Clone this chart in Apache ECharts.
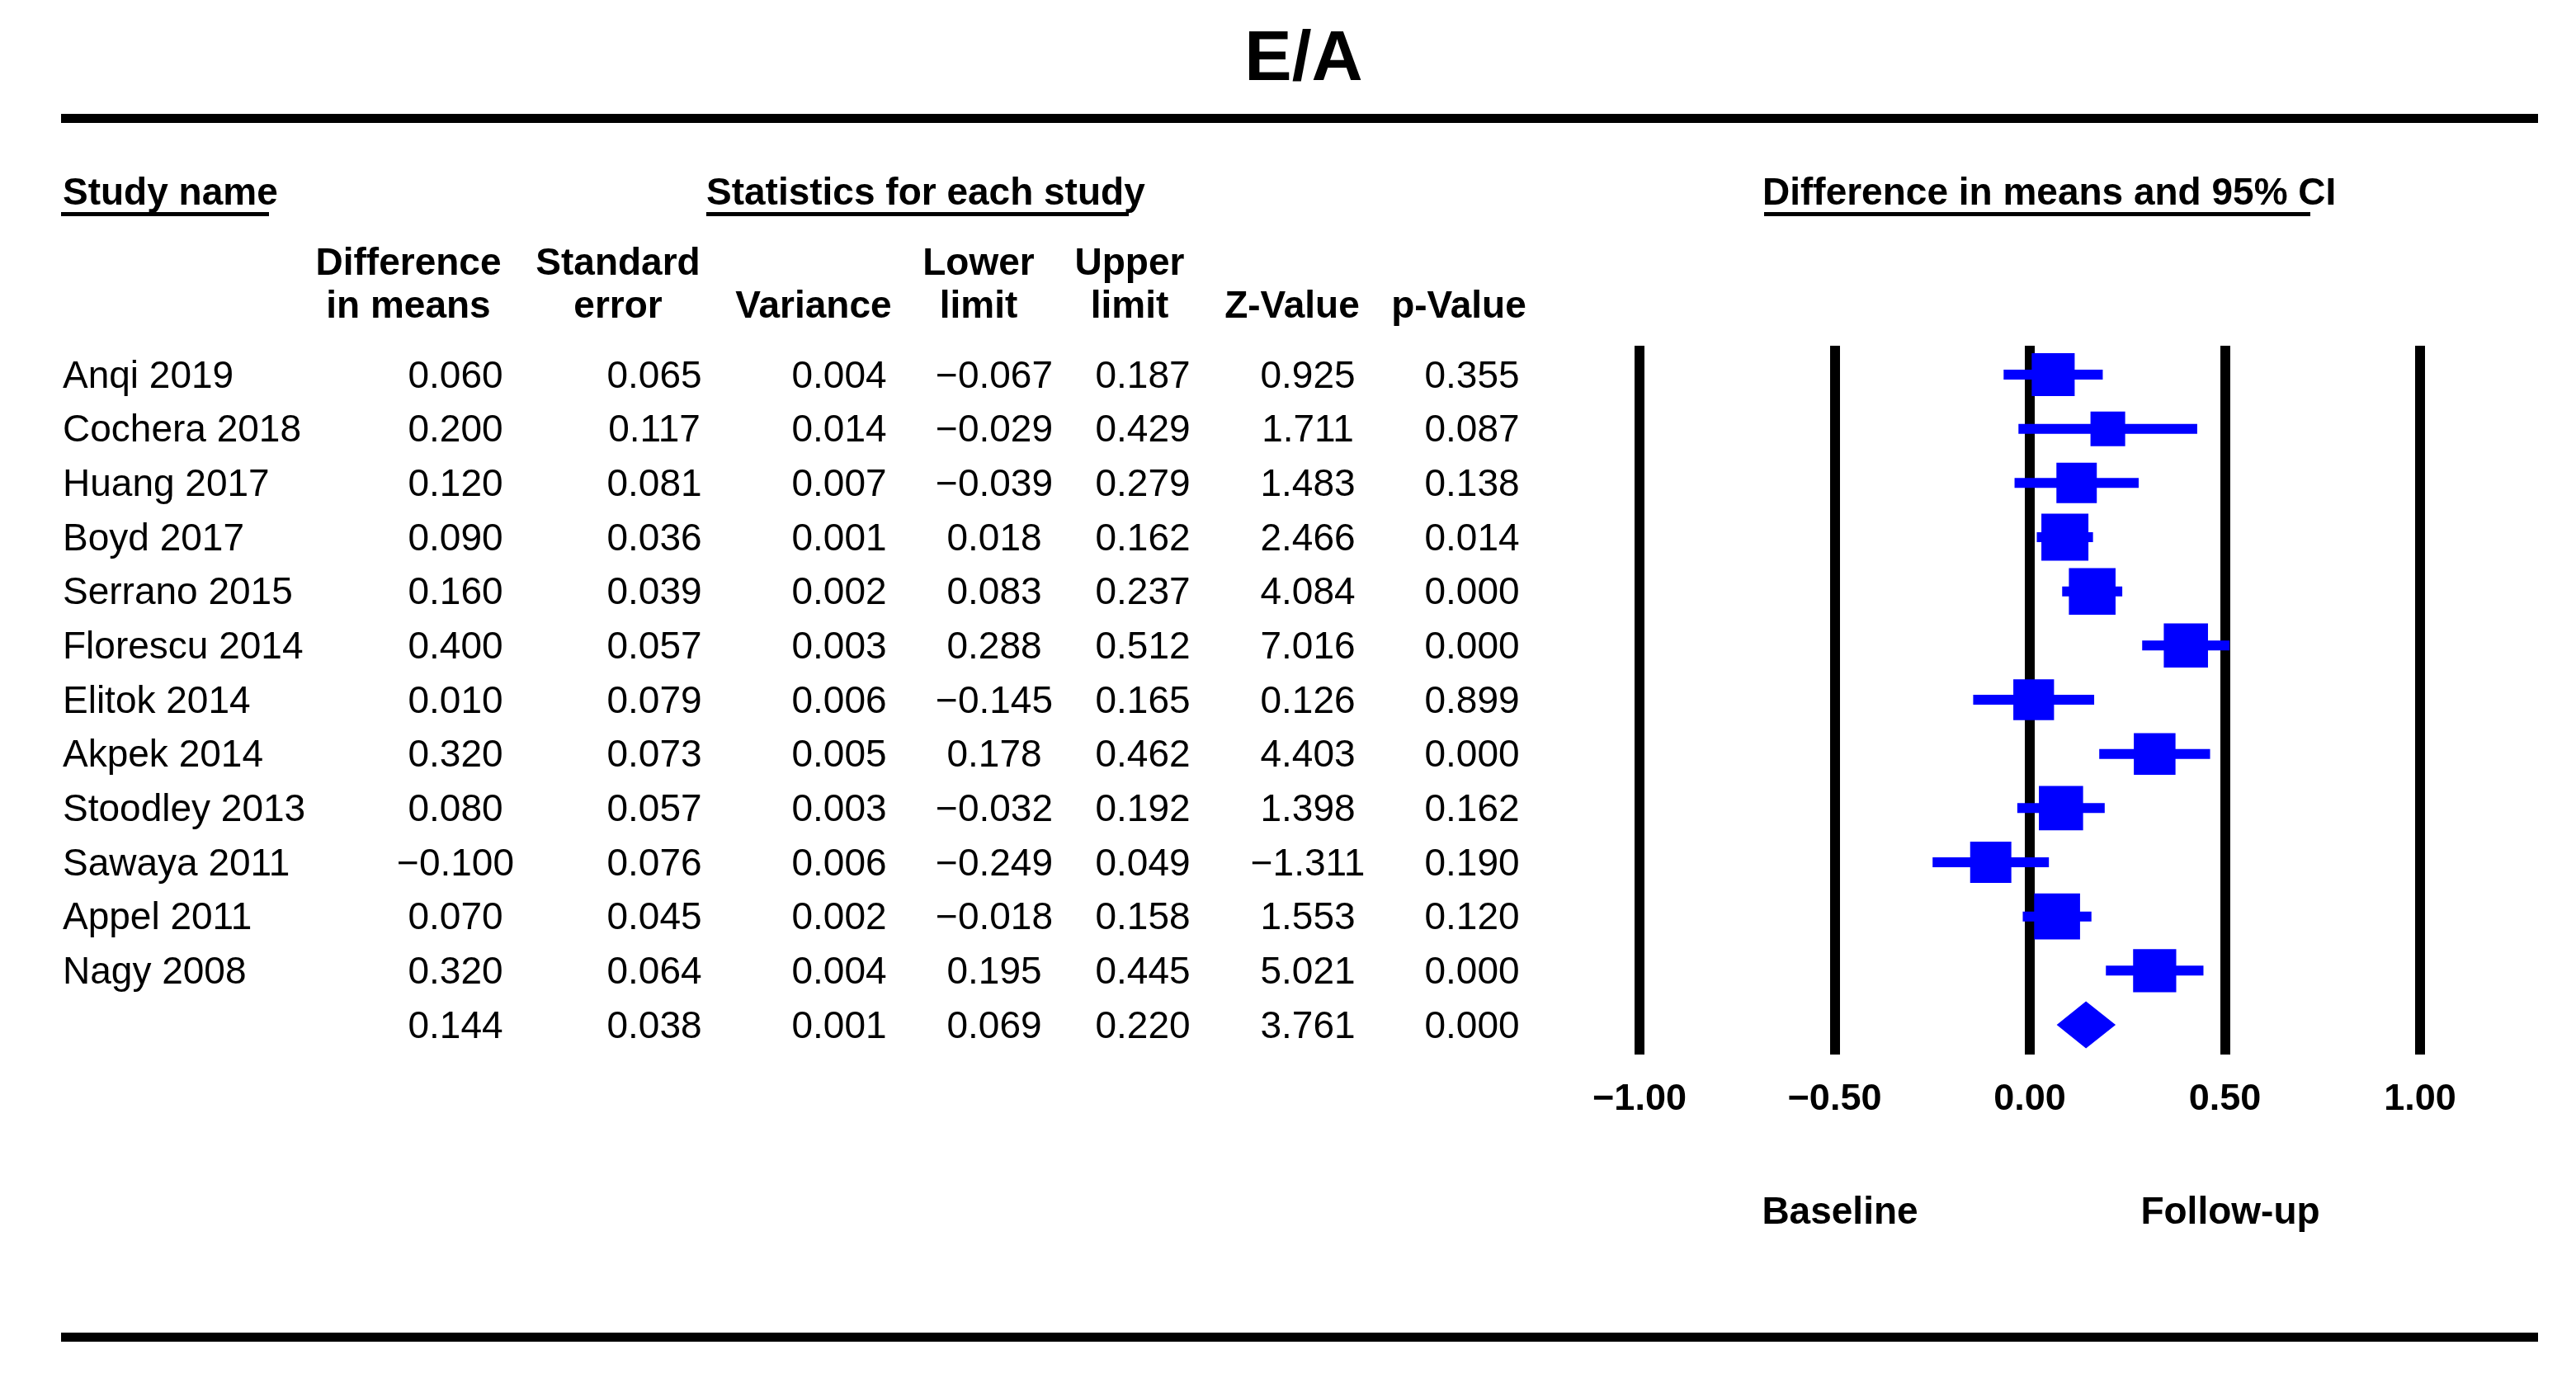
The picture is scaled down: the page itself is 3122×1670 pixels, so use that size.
<!DOCTYPE html>
<html><head><meta charset="utf-8">
<script src="https://cdn.jsdelivr.net/npm/echarts@6/dist/echarts.min.js"></script>
<style>html,body{margin:0;padding:0;background:#fff}#c{width:3122px;height:1670px}</style>
</head><body><div id="c"></div>
<script>
const studyNames = ['Anqi 2019','Cochera 2018','Huang 2017','Boyd 2017','Serrano 2015','Florescu 2014','Elitok 2014','Akpek 2014','Stoodley 2013','Sawaya 2011','Appel 2011','Nagy 2008'];
const diffMeans = [0.060,0.200,0.120,0.090,0.160,0.400,0.010,0.320,0.080,-0.100,0.070,0.320];
const stdErr = [0.065,0.117,0.081,0.036,0.039,0.057,0.079,0.073,0.057,0.076,0.045,0.064];
const variance = [0.004,0.014,0.007,0.001,0.002,0.003,0.006,0.005,0.003,0.006,0.002,0.004];
const lowerLimit = [-0.067,-0.029,-0.039,0.018,0.083,0.288,-0.145,0.178,-0.032,-0.249,-0.018,0.195];
const upperLimit = [0.187,0.429,0.279,0.162,0.237,0.512,0.165,0.462,0.192,0.049,0.158,0.445];
const zValue = [0.925,1.711,1.483,2.466,4.084,7.016,0.126,4.403,1.398,-1.311,1.553,5.021];
const pValue = [0.355,0.087,0.138,0.014,0.000,0.000,0.899,0.000,0.162,0.190,0.120,0.000];
const summaryRow = [0.144,0.038,0.001,0.069,0.220,3.761,0.000];
const xTickValues = [-1.00,-0.50,0.00,0.50,1.00];
const columnHeaders = [['Difference','in means'],['Standard','error'],['','Variance'],['Lower','limit'],['Upper','limit'],['','Z-Value'],['','p-Value']];
const sectionHeaders = ['Study name','Statistics for each study','Difference in means and 95% CI'];
const sideLabels = ['Baseline','Follow-up'];
const chartTitle = 'E/A';

const FONT = '"Liberation Sans", Arial, sans-serif';
const BLUE = '#0000ff';
const TAU2 = 0.01346; // between-study variance used for weighting marker size
const fmt3 = v => (v < 0 ? '\u2212' : '') + Math.abs(v).toFixed(3);
const fmt2 = v => (v < 0 ? '\u2212' : '') + Math.abs(v).toFixed(2);

const nRows = studyNames.length;
const colCenters = [552, 793, 1017, 1205, 1385, 1585, 1784];
const headCenters = [495, 749, 986, 1186, 1369, 1566, 1768];

const tableData = [];
for (let i = 0; i < nRows; i++) {
  tableData.push({ value: [0, i], cells: [studyNames[i], diffMeans[i], stdErr[i], variance[i], lowerLimit[i], upperLimit[i], zValue[i], pValue[i]] });
}
tableData.push({ value: [0, nRows], cells: [''].concat(summaryRow) });

const studyData = studyNames.map((n, i) => [lowerLimit[i], upperLimit[i], diffMeans[i], i, stdErr[i]]);
const summaryData = [[summaryRow[3], summaryRow[4], summaryRow[0], nRows]];

const chart = echarts.init(document.getElementById('c'), null, { renderer: 'canvas' });

const textStyle = (t, x, y, opts) => ({
  type: 'text', x: x, y: y, silent: true,
  style: Object.assign({ text: t, fill: '#000', font: 'normal 46px ' + FONT, textAlign: 'center', textVerticalAlign: 'middle' }, opts || {})
});

const graphics = [];
graphics.push(textStyle(chartTitle, 1580, 73, { font: 'bold 86px ' + FONT }));
graphics.push({ type: 'rect', silent: true, shape: { x: 74, y: 138, width: 3002, height: 11 }, style: { fill: '#000' } });
graphics.push({ type: 'rect', silent: true, shape: { x: 74, y: 1615, width: 3002, height: 11 }, style: { fill: '#000' } });
const secX = [76, 856, 2136];
const ulines = [[74, 326], [856, 1368], [2138, 2800]];
sectionHeaders.forEach((s, k) => {
  graphics.push(textStyle(s, secX[k], 235, { font: 'bold 46px ' + FONT, textAlign: 'left' }));
  graphics.push({ type: 'rect', silent: true, shape: { x: ulines[k][0], y: 257, width: ulines[k][1] - ulines[k][0], height: 5 }, style: { fill: '#000' } });
});
columnHeaders.forEach((h, k) => {
  if (h[0]) graphics.push(textStyle(h[0], headCenters[k], 320, { font: 'bold 46px ' + FONT }));
  graphics.push(textStyle(h[1], headCenters[k], 372, { font: 'bold 46px ' + FONT }));
});
const sideX = [2230, 2703];
sideLabels.forEach((s, k) => graphics.push(textStyle(s, sideX[k], 1470, { font: 'bold 46px ' + FONT })));

chart.setOption({
  animation: false,
  backgroundColor: '#fff',
  graphic: graphics,
  grid: { left: 1987, width: 946, top: 419, height: 859, containLabel: false },
  xAxis: {
    type: 'value', min: -1, max: 1, interval: 0.5,
    axisLine: { show: false }, axisTick: { show: false },
    splitLine: { show: true, lineStyle: { color: '#000', width: 12, type: 'solid' } },
    axisLabel: { show: true, margin: 32, color: '#000', fontFamily: FONT, fontSize: 45, fontWeight: 'bold',
      formatter: v => xTickValues.indexOf(v) >= 0 ? fmt2(v) : '' }
  },
  yAxis: {
    type: 'value', inverse: true, min: -0.533, max: 12.548,
    axisLine: { show: false }, axisTick: { show: false }, axisLabel: { show: false }, splitLine: { show: false }
  },
  series: [
    {
      type: 'custom', name: 'studies', clip: false, silent: true,
      data: studyData,
      renderItem: function (params, api) {
        const row = api.value(3);
        const y = api.coord([0, row])[1];
        const xl = api.coord([api.value(0), row])[0];
        const xu = api.coord([api.value(1), row])[0];
        const xc = api.coord([api.value(2), row])[0];
        const se = api.value(4);
        const s = 6.924 / Math.sqrt(se * se + TAU2);
        return {
          type: 'group', children: [
            { type: 'rect', shape: { x: xl, y: y - 6, width: xu - xl, height: 12 }, style: { fill: BLUE } },
            { type: 'rect', shape: { x: xc - s / 2, y: y - s / 2, width: s, height: s }, style: { fill: BLUE } }
          ]
        };
      }
    },
    {
      type: 'custom', name: 'summary', clip: false, silent: true,
      data: summaryData,
      renderItem: function (params, api) {
        const row = api.value(3);
        const y = api.coord([0, row])[1];
        const xl = api.coord([api.value(0), row])[0];
        const xu = api.coord([api.value(1), row])[0];
        const xc = api.coord([api.value(2), row])[0];
        const h = 57;
        return { type: 'polygon', shape: { points: [[xl, y], [xc, y - h / 2], [xu, y], [xc, y + h / 2]] }, style: { fill: BLUE } };
      }
    },
    {
      type: 'custom', name: 'table', clip: false, silent: true,
      data: tableData,
      renderItem: function (params, api) {
        const cells = tableData[params.dataIndex].cells;
        const y = api.coord([0, api.value(1)])[1] + 3;
        const children = [];
        if (cells[0]) children.push({ type: 'text', style: { text: cells[0], x: 76, y: y, fill: '#000', font: 'normal 46px ' + FONT, textAlign: 'left', textVerticalAlign: 'middle' } });
        for (let k = 1; k < cells.length; k++) {
          children.push({ type: 'text', style: { text: fmt3(cells[k]), x: colCenters[k - 1], y: y, fill: '#000', font: 'normal 46px ' + FONT, textAlign: 'center', textVerticalAlign: 'middle' } });
        }
        return { type: 'group', children: children };
      }
    }
  ]
});
</script>
</body></html>
